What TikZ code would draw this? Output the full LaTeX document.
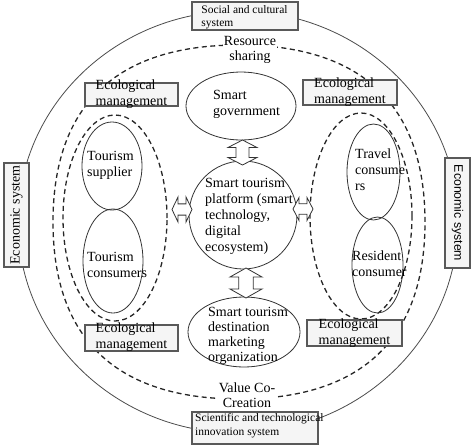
\documentclass[tikz,border=0pt]{standalone}
\usepackage{fontspec}
\setmainfont{Liberation Serif}
\newfontfamily\sansf{Liberation Sans}
\usetikzlibrary{shapes.geometric}
\begin{document}
\begin{tikzpicture}[x=1pt,y=-1pt,
  sol/.style={draw=black!80, line width=0.8pt},
  dline/.style={draw=black!85, line width=1.3pt, dash pattern=on 5pt off 3.5pt},
  ell/.style={ellipse, sol, inner sep=0pt},
  grp/.style={ellipse, dline, inner sep=0pt},
  txt/.style={inner sep=0pt, align=left, font=\fontsize{14}{16}\selectfont},
  ctxt/.style={inner sep=1pt, align=center, fill=white, font=\fontsize{14}{15}\selectfont},
  stxt/.style={inner sep=0pt, align=left, font=\fontsize{11.5}{13.5}\selectfont},
  box/.style={draw=black!65, fill=black!4, line width=1.1pt, inner sep=0pt},
  arrowsty/.style={draw=black!80, fill=white, line width=0.8pt, line join=miter},
  vdbl/.pic={\draw[arrowsty] (0,-1) -- (1,-0.4) -- (0.45,-0.4) -- (0.45,0.4) -- (1,0.4) -- (0,1) -- (-1,0.4) -- (-0.45,0.4) -- (-0.45,-0.4) -- (-1,-0.4) -- cycle;},
  hdbl/.pic={\draw[arrowsty] (-1,0) -- (-0.4,-1) -- (-0.4,-0.45) -- (0.4,-0.45) -- (0.4,-1) -- (1,0) -- (0.4,1) -- (0.4,0.45) -- (-0.4,0.45) -- (-0.4,1) -- cycle;}
]
\useasboundingbox (0,0) rectangle (474,445);

% outer circle
\draw[sol, draw=black!70] (238,222) ellipse [x radius=220pt, y radius=211pt];

% big dashed rounded shape
\draw[dline] (239,45) .. controls (361.8,45) and (425,105.2) .. (425,222)
  .. controls (425,338.8) and (361.8,399) .. (239,399)
  .. controls (116.2,399) and (53,338.8) .. (53,222)
  .. controls (53,105.2) and (116.2,45) .. cycle;

% group ellipses
\node[grp, minimum width=104pt, minimum height=206pt] (lg) at (115,218) {};
\node[grp, minimum width=102pt, minimum height=206pt] (rg) at (361,216) {};

% solid ellipses
\node[ell, minimum width=60pt, minimum height=88pt] (sup) at (112,166) {};
\node[ell, minimum width=60pt, minimum height=104pt] (tcon) at (113,261) {};
\node[ell, minimum width=53pt, minimum height=96pt] (trav) at (373.5,172) {};
\node[ell, minimum width=51pt, minimum height=96pt] (res) at (377.5,265) {};
\node[ell, minimum width=110pt, minimum height=68pt] (gov) at (241,106) {};
\node[circle, sol, inner sep=0pt, minimum size=108pt] (plat) at (243,215) {};
\node[ell, minimum width=112pt, minimum height=70pt] (mkt) at (244,332) {};

% double block arrows
\pic[xscale=14.5, yscale=12.5] at (242.5,152.5) {vdbl};
\pic[xscale=16, yscale=15] at (246,283) {vdbl};
\pic[xscale=10, yscale=12.5] at (182,209.5) {hdbl};
\pic[xscale=10, yscale=11.5] at (303,209) {hdbl};

% texts in ellipses
\node[txt, anchor=west] (supT) at (87,165) {Tourism\\supplier};
\node[txt, anchor=west] (conT) at (87,265) {Tourism\\consumers};
\node[txt, anchor=west] (trvT) at (355,170) {Travel\\consume\\rs};
\node[txt, anchor=west] (resT) at (352,263.5) {Resident\\consumer};
\node[txt, anchor=west] (govT) at (213,104.5) {Smart\\government};
\node[txt, anchor=west] (platT) at (205,216) {Smart tourism\\platform (smart\\technology,\\digital\\ecosystem)};
\node[txt, anchor=west, font=\fontsize{14}{15}\selectfont] (mktT) at (208,335.5) {Smart tourism\\destination\\marketing\\organization};

% resource sharing / value co-creation
\node[ctxt] (rs) at (250,50) {Resource\\sharing};
\node[ctxt] (vc) at (247,395.5) {Value Co-\\Creation};

% ecological management boxes
\node[box, minimum width=93pt, minimum height=23pt] (e1) at (131.5,94.5) {};
\node[txt] (e1t) at (e1) {Ecological\\management};
\node[box, minimum width=94pt, minimum height=25pt] (e2) at (350,92.5) {};
\node[txt] (e2t) at (e2) {Ecological\\management};
\node[box, minimum width=93pt, minimum height=26pt] (e3) at (131.5,338) {};
\node[txt] (e3t) at (131.5,337) {Ecological\\management};
\node[box, minimum width=95pt, minimum height=26pt] (e4) at (354.5,333) {};
\node[txt] (e4t) at (e4) {Ecological\\management};

% system boxes
\node[box, minimum width=106pt, minimum height=28pt] (soc) at (245,16) {};
\node[stxt] (socT) at (244.5,17) {Social and cultural\\system};
\node[box, minimum width=126pt, minimum height=32pt] (sci) at (255,428) {};
\node[stxt, anchor=west] (sciT) at (195,425.5) {Scientific and technological\\innovation system};
\node[box, minimum width=25pt, minimum height=104pt] (ecl) at (16.5,215) {};
\node[txt, rotate=90] (eclT) at (ecl) {Economic system};
\node[box, minimum width=25pt, minimum height=110pt] (ecr) at (457.5,213) {};
\node[inner sep=0pt, rotate=-90, font=\sansf\fontsize{12.3}{14}\selectfont] (ecrT) at (ecr) {Economic system};
\end{tikzpicture}
\end{document}
